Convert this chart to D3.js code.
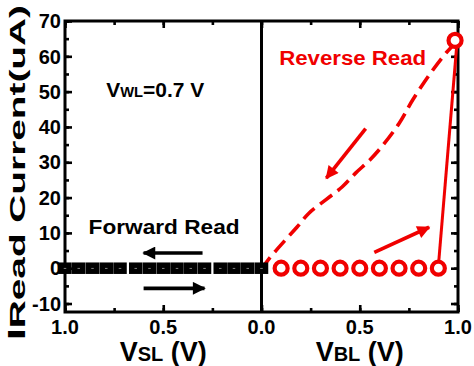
<!DOCTYPE html>
<html>
<head>
<meta charset="utf-8">
<script src="https://cdn.jsdelivr.net/npm/d3@7"></script>
<style>
  body { margin: 0; background: #fff; }
  text { font-family: "Liberation Sans", Arial, sans-serif; font-weight: bold; }
</style>
</head>
<body>
<div id="chart"></div>
<script>
// chart size
var svgWidth = 474;
var svgHeight = 366;

var margin = { top: 21, right: 16, bottom: 54, left: 65 };
var chartWidth = svgWidth - margin.left - margin.right;
var chartHeight = svgHeight - margin.top - margin.bottom;

// forward read (SL side, plotted at negative x)
var forwardX = [-1.0, -0.93, -0.86, -0.79, -0.72, -0.64, -0.57, -0.5, -0.43, -0.36, -0.29, -0.21, -0.14, -0.07, 0.0];
var forwardY = [0, 0, 0, 0, 0, 0, 0, 0, 0, 0, 0, 0, 0, 0, 0];

// reverse read sweep up (circles)
var reverseUpX = [0.1, 0.2, 0.3, 0.4, 0.5, 0.6, 0.7, 0.8, 0.9];
var reverseUpY = [0, 0, 0, 0, 0, 0, 0, 0, 0];
// jump at the end of the sweep
var jumpX = [0.9, 0.995];
var jumpY = [0.5, 64];
var topX = [0.985];
var topY = [64.5];

// reverse read sweep down (dashed)
var reverseDownX = [0.99, 0.94, 0.87, 0.77, 0.70, 0.61, 0.55, 0.48, 0.41, 0.33, 0.24, 0.18, 0.12, 0.04, 0.01];
var reverseDownY = [64, 61, 56, 47.7, 41, 34.3, 30.6, 27, 23, 19.5, 15.5, 11.6, 7.9, 2.8, 0.5];

// arrows [x1, y1, x2, y2, colour]
var arrows = [
  [0.53, 39.5, 0.33, 25.5, "#f00000"],
  [0.574, 4.5, 0.853, 11.6, "#f00000"],
  [-0.30, 4.3, -0.60, 4.3, "#000"],
  [-0.60, -5.7, -0.29, -5.7, "#000"]
];

var xTicks = [-1, -0.5, 0, 0.5, 1];
var xTickLabels = ["1.0", "0.5", "0.0", "0.5", "1.0"];
var yTicks = [-10, 0, 10, 20, 30, 40, 50, 60, 70];

var red = "#f00000";

var svg = d3.select("#chart")
  .append("svg")
  .attr("width", svgWidth)
  .attr("height", svgHeight);

var defs = svg.append("defs");
["red", "black"].forEach(function(name) {
  defs.append("marker")
    .attr("id", "head-" + name)
    .attr("viewBox", "0 0 10 10")
    .attr("refX", 9)
    .attr("refY", 5)
    .attr("markerWidth", 4.2)
    .attr("markerHeight", 3.6)
    .attr("markerUnits", "strokeWidth")
    .attr("orient", "auto")
    .append("path")
    .attr("d", "M0,0 L10,5 L0,10 Z")
    .attr("fill", name == "red" ? red : "#000");
});

var g = svg.append("g")
  .attr("transform", "translate(" + margin.left + "," + margin.top + ")");

var x = d3.scaleLinear().domain([-1, 1]).range([0, chartWidth]);
var y = d3.scaleLinear().domain([-12.4, 70]).range([chartHeight, 0]);

// axes with inward ticks on all sides
var xMinor = d3.range(-1, 1.001, 0.25);
var yMinor = d3.range(-10, 70.001, 5);

function addAxis(axis, transform) {
  var a = g.append("g").attr("transform", transform).call(axis);
  a.select(".domain").remove();
  a.selectAll("line").attr("stroke", "#000").attr("stroke-width", 2.6);
  return a;
}

addAxis(d3.axisBottom(x).tickValues(xMinor).tickSize(-4).tickFormat(""), "translate(0," + chartHeight + ")");
addAxis(d3.axisBottom(x).tickValues(xTicks).tickSize(-7).tickFormat(""), "translate(0," + chartHeight + ")");
addAxis(d3.axisTop(x).tickValues(xMinor).tickSize(-4).tickFormat(""), "translate(0,0)");
addAxis(d3.axisTop(x).tickValues(xTicks).tickSize(-7).tickFormat(""), "translate(0,0)");
addAxis(d3.axisLeft(y).tickValues(yMinor).tickSize(-4).tickFormat(""), "translate(0,0)");
addAxis(d3.axisLeft(y).tickValues(yTicks).tickSize(-7).tickFormat(""), "translate(0,0)");
addAxis(d3.axisRight(y).tickValues(yMinor).tickSize(-4).tickFormat(""), "translate(" + chartWidth + ",0)");
addAxis(d3.axisRight(y).tickValues(yTicks).tickSize(-7).tickFormat(""), "translate(" + chartWidth + ",0)");

// tick labels
g.selectAll("text.xlab")
  .data(xTicks)
  .enter()
  .append("text")
  .attr("class", "xlab")
  .attr("x", function(d) { return x(d); })
  .attr("y", chartHeight + 22)
  .attr("text-anchor", "middle")
  .attr("font-size", 20)
  .text(function(d, i) { return xTickLabels[i]; });

g.selectAll("text.ylab")
  .data(yTicks)
  .enter()
  .append("text")
  .attr("class", "ylab")
  .attr("x", -4)
  .attr("y", function(d) { return y(d); })
  .attr("dy", "0.36em")
  .attr("text-anchor", "end")
  .attr("font-size", 20)
  .text(function(d) { return d; });

// frame + divider
g.append("rect")
  .attr("width", chartWidth)
  .attr("height", chartHeight)
  .attr("fill", "none")
  .attr("stroke", "#000")
  .attr("stroke-width", 3);

g.append("line")
  .attr("x1", x(0)).attr("x2", x(0))
  .attr("y1", 0).attr("y2", chartHeight)
  .attr("stroke", "#000")
  .attr("stroke-width", 3);

// reverse read lines
var line = d3.line()
  .x(function(d) { return x(d[0]); })
  .y(function(d) { return y(d[1]); });

g.append("path")
  .attr("d", line.curve(d3.curveCatmullRom)(d3.zip(reverseDownX, reverseDownY)))
  .attr("fill", "none")
  .attr("stroke", red)
  .attr("stroke-width", 3.6)
  .attr("stroke-dasharray", "15,7");

g.append("path")
  .attr("d", line.curve(d3.curveLinear)(d3.zip(jumpX, jumpY)))
  .attr("fill", "none")
  .attr("stroke", red)
  .attr("stroke-width", 3);

// circles
g.selectAll("circle.rev")
  .data(d3.zip(reverseUpX.concat(topX), reverseUpY.concat(topY)))
  .enter()
  .append("circle")
  .attr("class", "rev")
  .attr("cx", function(d) { return x(d[0]); })
  .attr("cy", function(d) { return y(d[1]); })
  .attr("r", 6.5)
  .attr("fill", "#fff")
  .attr("stroke", red)
  .attr("stroke-width", 4.2);

// squares
g.selectAll("rect.fwd")
  .data(d3.zip(forwardX, forwardY))
  .enter()
  .append("rect")
  .attr("class", "fwd")
  .attr("x", function(d) { return x(d[0]) - 4; })
  .attr("y", function(d) { return y(d[1]) - 3; })
  .attr("width", 8)
  .attr("height", 6)
  .attr("fill", "#fff")
  .attr("stroke", "#000")
  .attr("stroke-width", 5.5);

// arrows
g.selectAll("line.arrow")
  .data(arrows)
  .enter()
  .append("line")
  .attr("class", "arrow")
  .attr("x1", function(d) { return x(d[0]); })
  .attr("y1", function(d) { return y(d[1]); })
  .attr("x2", function(d) { return x(d[2]); })
  .attr("y2", function(d) { return y(d[3]); })
  .attr("stroke", function(d) { return d[4]; })
  .attr("stroke-width", 3.6)
  .attr("marker-end", function(d) { return d[4] == "#000" ? "url(#head-black)" : "url(#head-red)"; });

// annotations
var vwl = g.append("text")
  .attr("x", x(-0.79))
  .attr("y", y(48.5))
  .attr("font-size", 20)
  .attr("textLength", 98)
  .attr("lengthAdjust", "spacingAndGlyphs");
vwl.append("tspan").text("V");
vwl.append("tspan").attr("font-size", 14).text("WL");
vwl.append("tspan").text("=0.7 V");

g.append("text")
  .attr("x", x(0.09))
  .attr("y", y(57.5))
  .attr("fill", red)
  .attr("font-size", 20)
  .attr("textLength", 147)
  .attr("lengthAdjust", "spacingAndGlyphs")
  .text("Reverse Read");

g.append("text")
  .attr("x", x(-0.88))
  .attr("y", y(9.6))
  .attr("font-size", 21)
  .attr("textLength", 151)
  .attr("lengthAdjust", "spacingAndGlyphs")
  .text("Forward Read");

// axis titles
var xt1 = g.append("text")
  .attr("x", x(-0.5))
  .attr("y", chartHeight + 49)
  .attr("text-anchor", "middle")
  .attr("font-size", 27);
xt1.append("tspan").text("V");
xt1.append("tspan").attr("font-size", 20).text("SL");
xt1.append("tspan").text(" (V)");

var xt2 = g.append("text")
  .attr("x", x(0.5))
  .attr("y", chartHeight + 49)
  .attr("text-anchor", "middle")
  .attr("font-size", 27);
xt2.append("tspan").text("V");
xt2.append("tspan").attr("font-size", 20).text("BL");
xt2.append("tspan").text(" (V)");

var yt = svg.append("text")
  .attr("transform", "translate(25,340) rotate(-90)")
  .attr("font-size", 22)
  .attr("textLength", 335)
  .attr("lengthAdjust", "spacingAndGlyphs");
yt.append("tspan").attr("font-size", 24).text("I");
yt.append("tspan").text("Read Current(uA)");
</script>
</body>
</html>
